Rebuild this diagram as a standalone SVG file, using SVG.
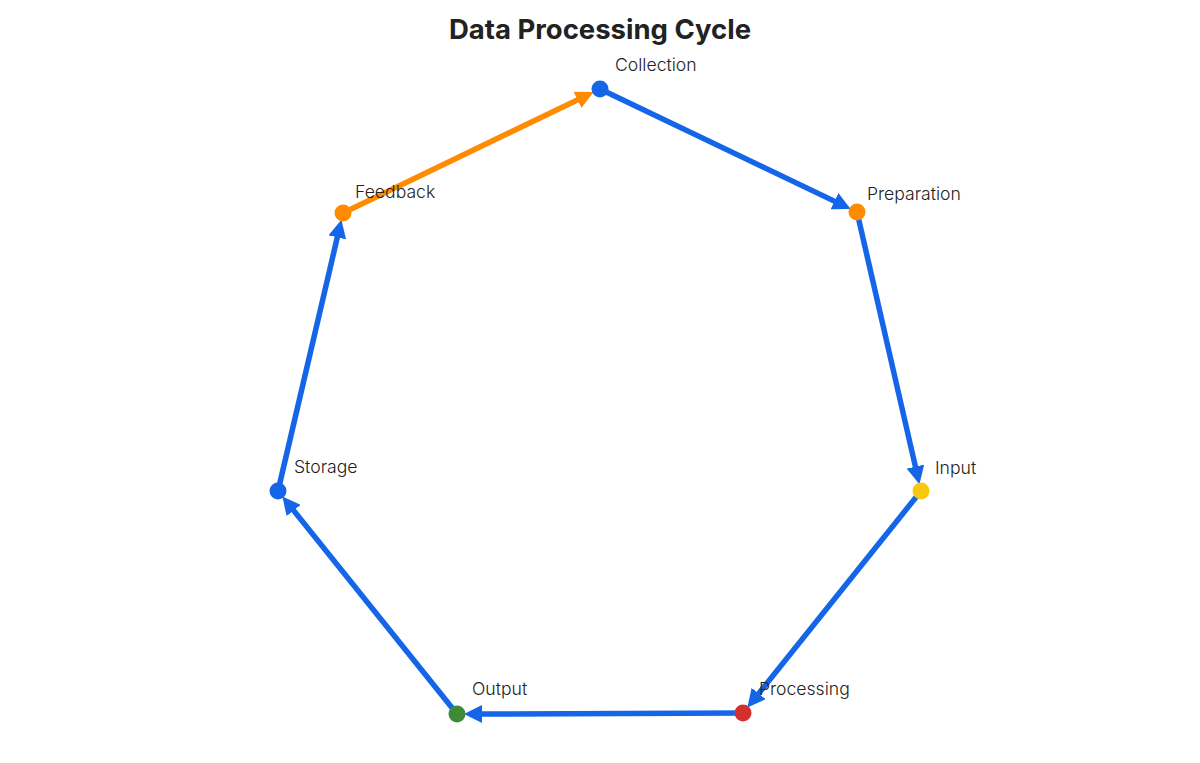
<svg xmlns="http://www.w3.org/2000/svg" width="1200" height="763" viewBox="0 0 1200 763">
<style>
.title{font-family:Inter,"Noto Sans",sans-serif;font-weight:700;font-size:27.5px;fill:#222;}
.lbl{font-family:Inter,"Noto Sans",sans-serif;font-weight:300;font-size:17.6px;fill:#222;}
.edge{fill:none;stroke-width:5.5;}
.blue{stroke:#1565e8;}
.orange{stroke:#ff8c00;}
</style>
<defs>
<marker id="ab" viewBox="0 0 18 18" markerWidth="18" markerHeight="18" refX="5" refY="9" orient="auto" markerUnits="userSpaceOnUse"><path d="M0,0 L18,9 L0,18 z" fill="#1565e8"/></marker>
<marker id="ao" viewBox="0 0 18 18" markerWidth="18" markerHeight="18" refX="5" refY="9" orient="auto" markerUnits="userSpaceOnUse"><path d="M0,0 L18,9 L0,18 z" fill="#ff8c00"/></marker>
</defs>
<rect width="1200" height="763" fill="#ffffff"/>
<text class="title" x="600" y="39" text-anchor="middle">Data Processing Cycle</text>
<g id="connectors">
<line class="edge blue" x1="600" y1="89" x2="838.96" y2="203.37" marker-end="url(#ab)"/>
<line class="edge blue" x1="857" y1="212" x2="916.53" y2="471.5" marker-end="url(#ab)"/>
<line class="edge blue" x1="921" y1="491" x2="755.51" y2="697.39" marker-end="url(#ab)"/>
<line class="edge blue" x1="743" y1="713" x2="477" y2="714" marker-end="url(#ab)"/>
<line class="edge blue" x1="457" y1="714" x2="290.52" y2="506.6" marker-end="url(#ab)"/>
<line class="edge blue" x1="278" y1="491" x2="338.45" y2="232.47" marker-end="url(#ab)"/>
<line class="edge orange" x1="343" y1="213" x2="581.99" y2="97.69" marker-end="url(#ao)"/>
</g>
<g id="node-collection"><circle cx="600" cy="89" r="8.5" fill="#1565e8"/><text class="lbl" x="615" y="71">Collection</text></g>
<g id="node-preparation"><circle cx="857" cy="212" r="8.5" fill="#ff8c00"/><text class="lbl" x="867" y="200">Preparation</text></g>
<g id="node-input"><circle cx="921" cy="491" r="8.5" fill="#f9c80e"/><text class="lbl" x="935" y="474">Input</text></g>
<g id="node-processing"><circle cx="743" cy="713" r="8.5" fill="#d32f2f"/><text class="lbl" x="759" y="695">Processing</text></g>
<g id="node-output"><circle cx="457" cy="714" r="8.5" fill="#3d8b37"/><text class="lbl" x="472" y="695">Output</text></g>
<g id="node-storage"><circle cx="278" cy="491" r="8.5" fill="#1565e8"/><text class="lbl" x="294" y="473">Storage</text></g>
<g id="node-feedback"><circle cx="343" cy="213" r="8.5" fill="#ff8c00"/><text class="lbl" x="355" y="198">Feedback</text></g>
</svg>
